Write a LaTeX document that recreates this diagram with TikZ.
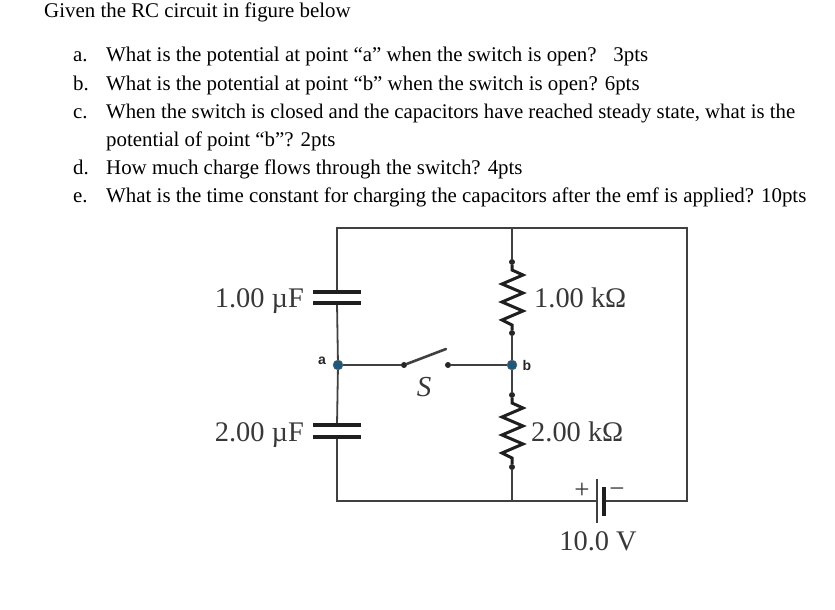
\documentclass[tikz,border=0pt]{standalone}
\usepackage{fontspec}
\setmainfont{Liberation Serif}
\newfontfamily\labelsans{Liberation Sans}
\usetikzlibrary{calc}
\definecolor{nodeblue}{RGB}{28,90,125}
\tikzset{
  wire/.style={draw=black!75,line width=1.8pt},
  plate/.style={draw=black!88,line width=3.6pt},
  dotnode/.style={circle,fill=black!85,inner sep=0pt,minimum size=6pt},
  junction/.style={circle,fill=nodeblue,draw=black!60,line width=.4pt,inner sep=0pt,minimum size=10pt},
  question/.style={anchor=base west,inner sep=0pt,font=\fontsize{20.9}{24}\selectfont,text=black},
  circuitlabel/.style={inner sep=0pt,font=\fontsize{28.4}{30}\selectfont,text=black!78},
  ptlabel/.style={inner sep=0pt,font=\labelsans\bfseries\fontsize{14}{15}\selectfont,text=black!85},
  zigzag/.style={draw=black!88,line width=3pt,line join=miter}
}
\begin{document}
\begin{tikzpicture}[x=1pt,y=-1pt]
\useasboundingbox (0,0) rectangle (835,610);
% text
\node[question] (t0) at (44,18) {Given the RC circuit in figure below};
\node[question] (ma) at (73,62) {a.};
\node[question] (qa) at (106,62) {What is the potential at point “a” when the switch is open?\hspace{.8em}3pts};
\node[question] (mb) at (73,90) {b.};
\node[question] (qb) at (106,90) {What is the potential at point “b” when the switch is open? 6pts};
\node[question] (mc) at (73,118) {c.};
\node[question,font=\fontsize{20.8}{24}\selectfont] (qc) at (106,118) {When the switch is closed and the capacitors have reached steady state, what is the};
\node[question] (qc2) at (106,146.5) {potential of point “b”? 2pts};
\node[question] (md) at (73,174) {d.};
\node[question] (qd) at (106,174) {How much charge flows through the switch? 4pts};
\node[question] (me) at (73,202) {e.};
\node[question] (qe) at (106,202) {What is the time constant for charging the capacitors after the emf is applied? 10pts};
% corners and tees
\coordinate (tl) at (337,228);
\coordinate (tm) at (512,228);
\coordinate (tr) at (687,228);
\coordinate (bl) at (337,501);
\coordinate (bm) at (512,501);
\coordinate (br) at (687,501);
% junctions
\node[junction] (a) at (338,365) {};
\node[junction] (b) at (512,365) {};
% switch
\node[dotnode] (s1) at (404,365) {};
\node[dotnode] (s2) at (448,365) {};
\coordinate (arm) at (446,349);
% resistor terminals
\node[dotnode] (r1t) at (512,262) {};
\node[dotnode] (r1b) at (512,333) {};
\node[dotnode] (r2t) at (512,395) {};
\node[dotnode] (r2b) at (512,467) {};
% capacitor plates
\coordinate (c1a) at (337,292);
\coordinate (c1b) at (337,303);
\coordinate (c2a) at (337,425);
\coordinate (c2b) at (337,437);
\coordinate (batp) at (597,501);
\coordinate (batn) at (604,501);
% wires
\draw[wire] (c1a) -- (tl) -- (tr) -- (br) -- (batn);
\draw[wire] (batp) -- (bl) -- (c2b);
\draw[wire] (c1b) -- (a) -- (c2a);
\draw[wire] (a) -- (s1);
\draw[wire] (s2) -- (b);
\draw[wire] (tm) -- (r1t);
\draw[wire] (r1b) -- (b) -- (r2t);
\draw[wire] (r2b) -- (bm);
\draw[wire,line width=2.6pt,line cap=round] (s1) -- (arm);
% plates
\draw[plate] ($(c1a)+(-24,0)$) -- ($(c1a)+(24,0)$);
\draw[plate] ($(c1b)+(-24,0)$) -- ($(c1b)+(24,0)$);
\draw[plate] ($(c2a)+(-24,0)$) -- ($(c2a)+(24,0)$);
\draw[plate] ($(c2b)+(-24,0)$) -- ($(c2b)+(24,0)$);
\draw[wire,line width=2pt] ($(batp)+(0,-22)$) -- ($(batp)+(0,22)$);
\draw[plate,line width=4pt] ($(batn)+(0,-14)$) -- ($(batn)+(0,15)$);
% resistors
\draw[zigzag] (r1t) -- (512,270) -- (523,275) -- (502,284) -- (523,293) -- (502,302) -- (523,311) -- (502,320) -- (512,325) -- (r1b);
\draw[zigzag] (r2t) -- (512,403) -- (523,408) -- (502,417) -- (523,426) -- (502,435) -- (523,444) -- (502,453) -- (512,458) -- (r2b);
% labels
\node[circuitlabel,anchor=base east] (l1) at (304,307) {1.00 µF};
\node[circuitlabel,anchor=base east] (l2) at (304,441) {2.00 µF};
\node[circuitlabel,anchor=base west] (l3) at (534,307) {1.00 kΩ};
\node[circuitlabel,anchor=base west] (l4) at (531,441) {2.00 kΩ};
\node[circuitlabel,anchor=base] (l5) at (598,550) {10.0 V};
\node[circuitlabel,font=\fontsize{27}{28}\selectfont,anchor=center] (pl) at (582,491) {+};
\node[circuitlabel,font=\fontsize{27}{28}\selectfont,anchor=center] (mi) at (617,493) {−};
\node[circuitlabel,font=\itshape\fontsize{29}{30}\selectfont,anchor=base] (sw) at (424,396) {S};
\node[ptlabel,anchor=center] (la) at (322,361) {a};
\node[ptlabel,anchor=center] (lb) at (527,365) {b};
\end{tikzpicture}
\end{document}
